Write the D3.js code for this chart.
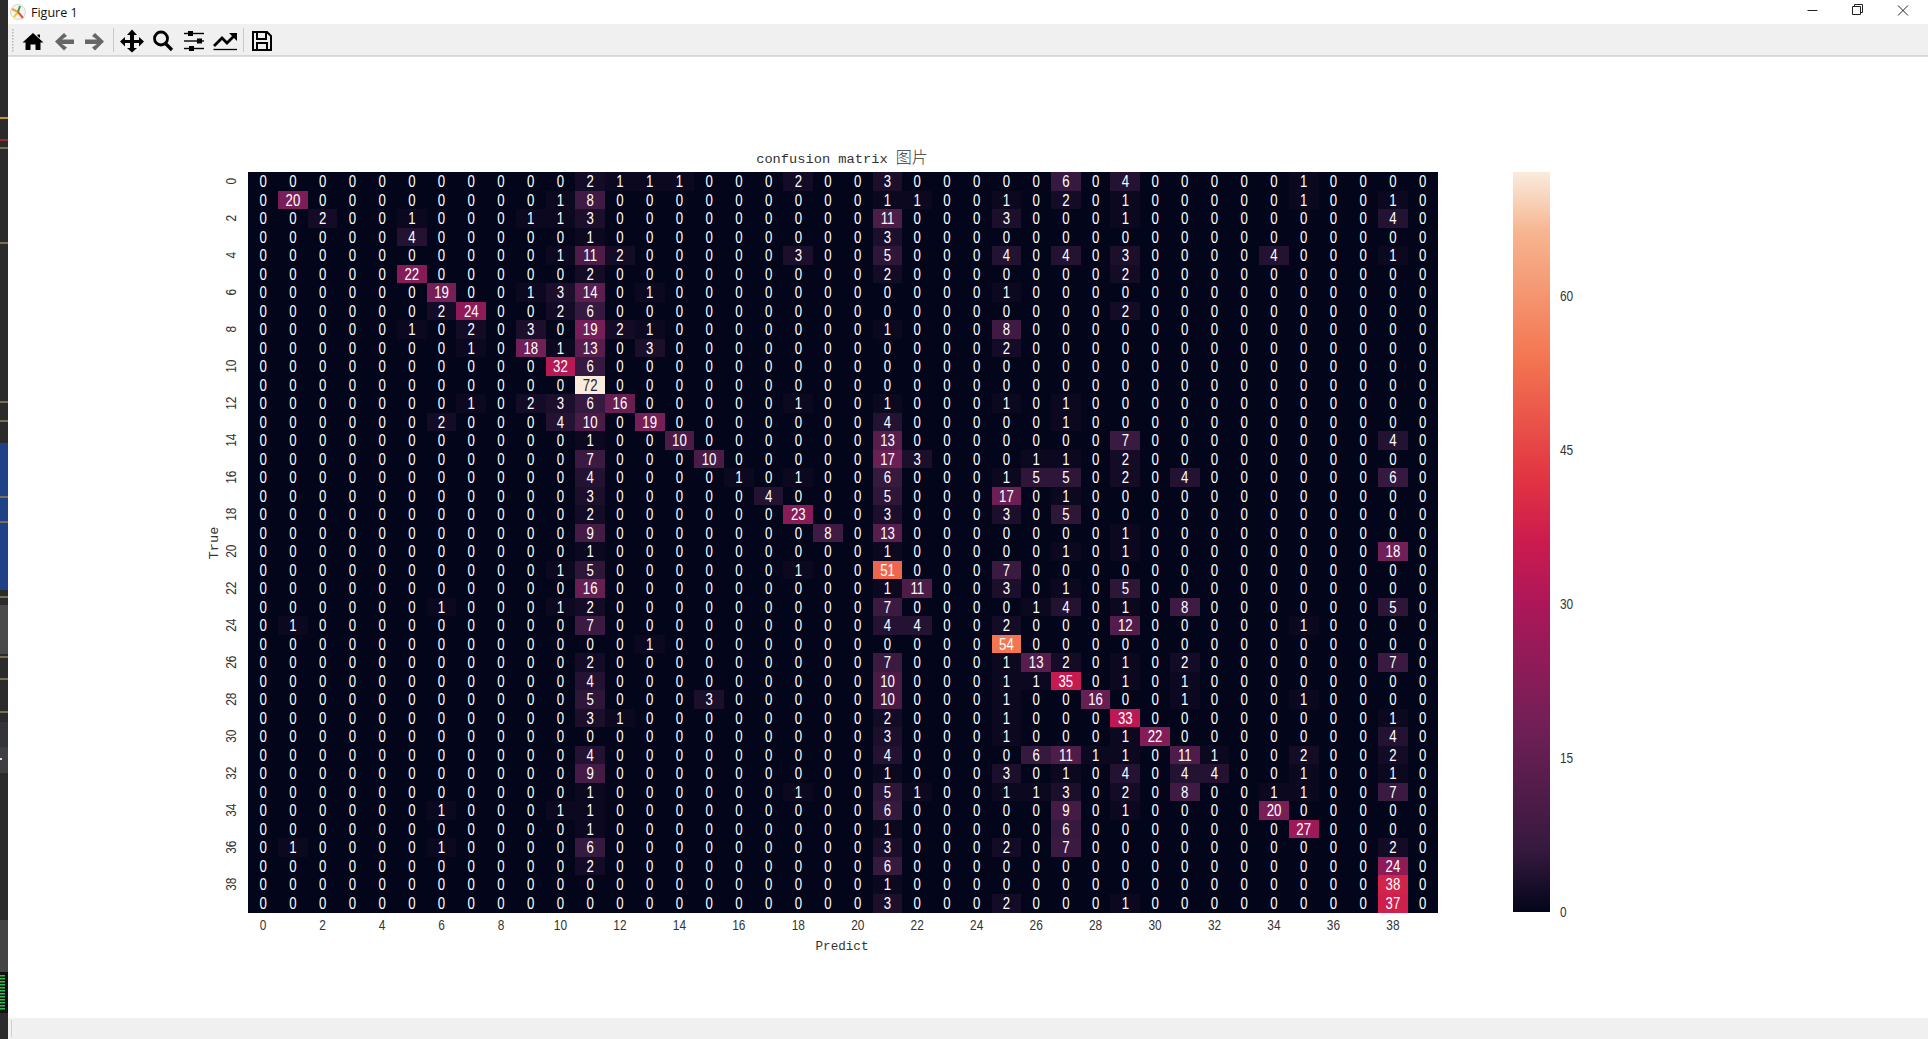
<!DOCTYPE html>
<html>
<head>
<meta charset="utf-8">
<title>Figure 1</title>
<script src="https://cdn.jsdelivr.net/npm/d3@7"></script>
<style>
  html, body { margin: 0; padding: 0; background: #fff; overflow: hidden; }
  svg { display: block; }
  text { font-family: "Liberation Sans", sans-serif; }
  .mono { font-family: "Liberation Mono", monospace; }
</style>
</head>
<body>
<div id="chart"></div>
<script>
const titleText = "confusion matrix ";
const titleCjk = "图片";
const xLabel = "Predict";
const yLabel = "True";
const xTicks = d3.range(0, 40, 2);
const yTicks = d3.range(0, 40, 2);
const barTicks = [0, 15, 30, 45, 60];
const vMax = 72;

// rocket colormap
const rocketStops = [0, 0.083, 0.25, 0.417, 0.5, 0.583, 0.75, 0.917, 1];
const rocketColors = ["#03051a", "#35193e", "#701f57", "#ad1759", "#cb1b4f", "#e13342", "#f37651", "#f6b48f", "#faebdd"];

const matrix = [
  [0,0,0,0,0,0,0,0,0,0,0,2,1,1,1,0,0,0,2,0,0,3,0,0,0,0,0,6,0,4,0,0,0,0,0,1,0,0,0,0],
  [0,20,0,0,0,0,0,0,0,0,1,8,0,0,0,0,0,0,0,0,0,1,1,0,0,1,0,2,0,1,0,0,0,0,0,1,0,0,1,0],
  [0,0,2,0,0,1,0,0,0,1,1,3,0,0,0,0,0,0,0,0,0,11,0,0,0,3,0,0,0,1,0,0,0,0,0,0,0,0,4,0],
  [0,0,0,0,0,4,0,0,0,0,0,1,0,0,0,0,0,0,0,0,0,3,0,0,0,0,0,0,0,0,0,0,0,0,0,0,0,0,0,0],
  [0,0,0,0,0,0,0,0,0,0,1,11,2,0,0,0,0,0,3,0,0,5,0,0,0,4,0,4,0,3,0,0,0,0,4,0,0,0,1,0],
  [0,0,0,0,0,22,0,0,0,0,0,2,0,0,0,0,0,0,0,0,0,2,0,0,0,0,0,0,0,2,0,0,0,0,0,0,0,0,0,0],
  [0,0,0,0,0,0,19,0,0,1,3,14,0,1,0,0,0,0,0,0,0,0,0,0,0,1,0,0,0,0,0,0,0,0,0,0,0,0,0,0],
  [0,0,0,0,0,0,2,24,0,0,2,6,0,0,0,0,0,0,0,0,0,0,0,0,0,0,0,0,0,2,0,0,0,0,0,0,0,0,0,0],
  [0,0,0,0,0,1,0,2,0,3,0,19,2,1,0,0,0,0,0,0,0,1,0,0,0,8,0,0,0,0,0,0,0,0,0,0,0,0,0,0],
  [0,0,0,0,0,0,0,1,0,18,1,13,0,3,0,0,0,0,0,0,0,0,0,0,0,2,0,0,0,0,0,0,0,0,0,0,0,0,0,0],
  [0,0,0,0,0,0,0,0,0,0,32,6,0,0,0,0,0,0,0,0,0,0,0,0,0,0,0,0,0,0,0,0,0,0,0,0,0,0,0,0],
  [0,0,0,0,0,0,0,0,0,0,0,72,0,0,0,0,0,0,0,0,0,0,0,0,0,0,0,0,0,0,0,0,0,0,0,0,0,0,0,0],
  [0,0,0,0,0,0,0,1,0,2,3,6,16,0,0,0,0,0,1,0,0,1,0,0,0,1,0,1,0,0,0,0,0,0,0,0,0,0,0,0],
  [0,0,0,0,0,0,2,0,0,0,4,10,0,19,0,0,0,0,0,0,0,4,0,0,0,0,0,1,0,0,0,0,0,0,0,0,0,0,0,0],
  [0,0,0,0,0,0,0,0,0,0,0,1,0,0,10,0,0,0,0,0,0,13,0,0,0,0,0,0,0,7,0,0,0,0,0,0,0,0,4,0],
  [0,0,0,0,0,0,0,0,0,0,0,7,0,0,0,10,0,0,0,0,0,17,3,0,0,0,1,1,0,2,0,0,0,0,0,0,0,0,0,0],
  [0,0,0,0,0,0,0,0,0,0,0,4,0,0,0,0,1,0,1,0,0,6,0,0,0,1,5,5,0,2,0,4,0,0,0,0,0,0,6,0],
  [0,0,0,0,0,0,0,0,0,0,0,3,0,0,0,0,0,4,0,0,0,5,0,0,0,17,0,1,0,0,0,0,0,0,0,0,0,0,0,0],
  [0,0,0,0,0,0,0,0,0,0,0,2,0,0,0,0,0,0,23,0,0,3,0,0,0,3,0,5,0,0,0,0,0,0,0,0,0,0,0,0],
  [0,0,0,0,0,0,0,0,0,0,0,9,0,0,0,0,0,0,0,8,0,13,0,0,0,0,0,0,0,1,0,0,0,0,0,0,0,0,0,0],
  [0,0,0,0,0,0,0,0,0,0,0,1,0,0,0,0,0,0,0,0,0,1,0,0,0,0,0,1,0,1,0,0,0,0,0,0,0,0,18,0],
  [0,0,0,0,0,0,0,0,0,0,1,5,0,0,0,0,0,0,1,0,0,51,0,0,0,7,0,0,0,0,0,0,0,0,0,0,0,0,0,0],
  [0,0,0,0,0,0,0,0,0,0,0,16,0,0,0,0,0,0,0,0,0,1,11,0,0,3,0,1,0,5,0,0,0,0,0,0,0,0,0,0],
  [0,0,0,0,0,0,1,0,0,0,1,2,0,0,0,0,0,0,0,0,0,7,0,0,0,0,1,4,0,1,0,8,0,0,0,0,0,0,5,0],
  [0,1,0,0,0,0,0,0,0,0,0,7,0,0,0,0,0,0,0,0,0,4,4,0,0,2,0,0,0,12,0,0,0,0,0,1,0,0,0,0],
  [0,0,0,0,0,0,0,0,0,0,0,0,0,1,0,0,0,0,0,0,0,0,0,0,0,54,0,0,0,0,0,0,0,0,0,0,0,0,0,0],
  [0,0,0,0,0,0,0,0,0,0,0,2,0,0,0,0,0,0,0,0,0,7,0,0,0,1,13,2,0,1,0,2,0,0,0,0,0,0,7,0],
  [0,0,0,0,0,0,0,0,0,0,0,4,0,0,0,0,0,0,0,0,0,10,0,0,0,1,1,35,0,1,0,1,0,0,0,0,0,0,0,0],
  [0,0,0,0,0,0,0,0,0,0,0,5,0,0,0,3,0,0,0,0,0,10,0,0,0,1,0,0,16,0,0,1,0,0,0,1,0,0,0,0],
  [0,0,0,0,0,0,0,0,0,0,0,3,1,0,0,0,0,0,0,0,0,2,0,0,0,1,0,0,0,33,0,0,0,0,0,0,0,0,1,0],
  [0,0,0,0,0,0,0,0,0,0,0,0,0,0,0,0,0,0,0,0,0,3,0,0,0,1,0,0,0,1,22,0,0,0,0,0,0,0,4,0],
  [0,0,0,0,0,0,0,0,0,0,0,4,0,0,0,0,0,0,0,0,0,4,0,0,0,0,6,11,1,1,0,11,1,0,0,2,0,0,2,0],
  [0,0,0,0,0,0,0,0,0,0,0,9,0,0,0,0,0,0,0,0,0,1,0,0,0,3,0,1,0,4,0,4,4,0,0,1,0,0,1,0],
  [0,0,0,0,0,0,0,0,0,0,0,1,0,0,0,0,0,0,1,0,0,5,1,0,0,1,1,3,0,2,0,8,0,0,1,1,0,0,7,0],
  [0,0,0,0,0,0,1,0,0,0,1,1,0,0,0,0,0,0,0,0,0,6,0,0,0,0,0,9,0,1,0,0,0,0,20,0,0,0,0,0],
  [0,0,0,0,0,0,0,0,0,0,0,1,0,0,0,0,0,0,0,0,0,1,0,0,0,0,0,6,0,0,0,0,0,0,0,27,0,0,0,0],
  [0,1,0,0,0,0,1,0,0,0,0,6,0,0,0,0,0,0,0,0,0,3,0,0,0,2,0,7,0,0,0,0,0,0,0,0,0,0,2,0],
  [0,0,0,0,0,0,0,0,0,0,0,2,0,0,0,0,0,0,0,0,0,6,0,0,0,0,0,0,0,0,0,0,0,0,0,0,0,0,24,0],
  [0,0,0,0,0,0,0,0,0,0,0,0,0,0,0,0,0,0,0,0,0,1,0,0,0,0,0,0,0,0,0,0,0,0,0,0,0,0,38,0],
  [0,0,0,0,0,0,0,0,0,0,0,0,0,0,0,0,0,0,0,0,0,3,0,0,0,2,0,0,0,1,0,0,0,0,0,0,0,0,37,0],
];

const width = 1928, height = 1039;
const plot = { left: 248.3, right: 1437.5, top: 172, bottom: 912 };
const bar = { left: 1513, right: 1550 };
const labelColor = "#333";

const svg = d3.select("#chart").append("svg").attr("width", width).attr("height", height);

// window chrome
svg.append("rect").attr("width", width).attr("height", height).attr("fill", "#fff");
svg.append("rect").attr("x", 8).attr("y", 24).attr("width", width - 8).attr("height", 32).attr("fill", "#f0f0f0");
svg.append("rect").attr("x", 8).attr("y", 55.5).attr("width", width - 8).attr("height", 1).attr("fill", "#bcbcbc");
svg.append("rect").attr("x", 8).attr("y", 1018).attr("width", width - 8).attr("height", 21).attr("fill", "#f0f0f0");
svg.append("rect").attr("x", 11).attr("y", 1020).attr("width", 1).attr("height", 17).attr("fill", "#d0d0d0");

// desktop strip on the left edge
const strip = svg.append("g");
strip.append("rect").attr("width", 8).attr("height", height).attr("fill", "#2b2b2b");
strip.selectAll(".blk")
  .data([[443, 147, "#1f4287"], [605, 49, "#4a4a4a"], [722, 25, "#333538"], [747, 26, "#3d3f42"], [920, 52, "#444"], [972, 41, "#111"]])
  .enter().append("rect")
  .attr("y", (d) => d[0]).attr("width", 8).attr("height", (d) => d[1]).attr("fill", (d) => d[2]);
strip.selectAll(".ln")
  .data([[117, "#c8962a"], [139, "#a0262a"], [147, "#7a6f55"], [242, "#7a6f55"], [401, "#7a6f55"], [420, "#7a6f55"], [496, "#7a6f55"], [521, "#7a6f55"], [596, "#7a6f55"], [656, "#7a6f55"], [678, "#7a6f55"], [711, "#7a6f55"]])
  .enter().append("rect")
  .attr("y", (d) => d[0]).attr("width", 8).attr("height", 2).attr("fill", (d) => d[1]);
strip.append("rect").attr("y", 758).attr("width", 2).attr("height", 2).attr("fill", "#ddd");
strip.selectAll(".grn")
  .data(d3.range(975, 1010, 3))
  .enter().append("rect")
  .attr("y", (d) => d).attr("width", 5).attr("height", 1.5).attr("fill", "#2fbf4f");

// title bar
const logo = svg.append("g").attr("transform", "translate(18,12)");
logo.append("circle").attr("r", 7.5).attr("fill", "#f4f4f4").attr("stroke", "#ccc").attr("stroke-width", 0.8);
[[-6, -3, 0, 0, "#f2a12e"], [-4, 5, 0, 0, "#f2c12e"], [0, 0, 5, 6, "#e2562b"], [0, 0, 2, -6, "#3fa04a"]].forEach((d) => {
  logo.append("line").attr("x1", d[0]).attr("y1", d[1]).attr("x2", d[2]).attr("y2", d[3])
    .attr("stroke", d[4]).attr("stroke-width", 2);
});
svg.append("text").attr("x", 31).attr("y", 16.5).text("Figure 1")
  .style("font-family", "'Open Sans', sans-serif").style("font-size", "12.5px").attr("fill", "#111");

const winBtn = svg.append("g").attr("fill", "none").attr("stroke", "#222").attr("stroke-width", 1);
winBtn.append("path").attr("d", "M1807.5 10.5H1817.5");
winBtn.append("path").attr("d", "M1852.5 6.5h8v8h-8zM1854.5 6.5v-2h8v8h-2");
winBtn.append("path").attr("d", "M1898 5.5L1908 15.5M1908 5.5L1898 15.5");

// toolbar icons
const tools = svg.append("g");
tools.selectAll(".dot").data(d3.range(29, 52, 3)).enter().append("rect")
  .attr("x", 12).attr("y", (d) => d).attr("width", 1.5).attr("height", 1.5).attr("fill", "#b5b5b5");
[113, 243].forEach((x) => {
  tools.append("rect").attr("x", x).attr("y", 28).attr("width", 1).attr("height", 24).attr("fill", "#c8c8c8");
});
tools.append("path").attr("fill", "#000")
  .attr("d", "M33 33L43.5 42.5H40.5V50H35.5V44.5H30.5V50H25.5V42.5H22.5Z M37.5 34.5H40V38L37.5 36Z");
tools.append("path").attr("fill", "#666")
  .attr("d", "M55 41.5L64 33L67 36L62 39.5H74V44H62L67 47.5L64 50.5Z");
tools.append("path").attr("fill", "#666")
  .attr("d", "M104 41.5L95 33L92 36L97 39.5H85V44H97L92 47.5L95 50.5Z");
tools.append("path").attr("fill", "#000")
  .attr("d", "M132 29.5L137 35H134V40H139V37L144 41.5L139 46.5V43H134V48H137L132 52.5L127 48H130V43H125V46.5L120 41.5L125 37V40H130V35H127Z");
tools.append("circle").attr("cx", 161).attr("cy", 38.5).attr("r", 6.5)
  .attr("fill", "none").attr("stroke", "#000").attr("stroke-width", 2.8);
tools.append("line").attr("x1", 165.5).attr("y1", 43.5).attr("x2", 172).attr("y2", 50)
  .attr("stroke", "#000").attr("stroke-width", 3.2);
[[33.5, 188], [41, 197], [48.5, 189]].forEach((d) => {
  tools.append("line").attr("x1", 184).attr("x2", 204).attr("y1", d[0]).attr("y2", d[0]).attr("stroke", "#000").attr("stroke-width", 1.4);
  tools.append("rect").attr("x", d[1]).attr("y", d[0] - 2.5).attr("width", 5).attr("height", 5).attr("fill", "#000");
});
tools.append("path").attr("fill", "none").attr("stroke", "#000").attr("stroke-width", 1.3).attr("d", "M213.5 49.5H237");
tools.append("path").attr("fill", "none").attr("stroke", "#000").attr("stroke-width", 2.8)
  .attr("d", "M214 46L222 38L227 43L235 35");
tools.append("path").attr("fill", "#000").attr("d", "M229 33H237V41Z");
tools.append("path").attr("fill", "none").attr("stroke", "#000").attr("stroke-width", 2)
  .attr("d", "M253 32H267L271 36V50H253Z M257 32V39H266V32 M257 50V43H267V50");

// scales
const cols = d3.range(matrix[0].length);
const rows = d3.range(matrix.length);
const x = d3.scaleBand().domain(cols).range([plot.left, plot.right]);
const y = d3.scaleBand().domain(rows).range([plot.top, plot.bottom]);
const color = d3.scaleLinear()
  .domain(rocketStops.map((s) => s * vMax))
  .range(rocketColors)
  .interpolate(d3.interpolateRgb);
const barY = d3.scaleLinear().domain([0, vMax]).range([plot.bottom, plot.top]);

const cells = matrix.flatMap((row, r) => row.map((v, c) => ({ r: r, c: c, v: v })));

// heatmap cells
svg.append("g").attr("shape-rendering", "crispEdges").selectAll("rect")
  .data(cells)
  .enter()
  .append("rect")
  .attr("x", (d) => x(d.c))
  .attr("y", (d) => y(d.r))
  .attr("width", x.bandwidth() + 0.5)
  .attr("height", y.bandwidth() + 0.5)
  .attr("fill", (d) => color(d.v));

// annotations
svg.append("g").selectAll("text")
  .data(cells)
  .enter()
  .append("text")
  .attr("transform", (d) => `translate(${x(d.c) + x.bandwidth() / 2},${y(d.r) + y.bandwidth() / 2 + 5.8}) scale(0.8,1)`)
  .attr("text-anchor", "middle")
  .style("font-size", "16.5px")
  .attr("fill", (d) => (d.v >= 60 ? "#262626" : "#fff"))
  .text((d) => d.v);

// axes
const xAxis = svg.append("g")
  .attr("transform", `translate(0,${plot.bottom})`)
  .call(d3.axisBottom(x).tickValues(xTicks).tickSize(0).tickPadding(8));
xAxis.select(".domain").remove();
xAxis.selectAll("text")
  .attr("transform", "scale(0.85,1)")
  .style("font-family", "'Liberation Sans', sans-serif")
  .style("font-size", "14px")
  .attr("fill", labelColor);

const yAxis = svg.append("g")
  .attr("transform", `translate(${plot.left},0)`)
  .call(d3.axisLeft(y).tickValues(yTicks).tickSize(0).tickPadding(0));
yAxis.select(".domain").remove();
yAxis.selectAll("text")
  .attr("x", 0).attr("y", 0).attr("dy", 0)
  .attr("transform", "translate(-12,0) rotate(-90) scale(0.85,1)")
  .attr("text-anchor", "middle")
  .style("font-family", "'Liberation Sans', sans-serif")
  .style("font-size", "14px")
  .attr("fill", labelColor);

// titles
const title = svg.append("text").attr("class", "mono")
  .attr("x", 842).attr("y", 163).attr("text-anchor", "middle")
  .style("font-size", "13.7px").attr("fill", labelColor);
title.append("tspan").style("white-space", "pre").text(titleText);
title.append("tspan").style("font-family", "'Noto Sans CJK SC'").style("font-weight", 300).style("font-size", "16px").text(titleCjk);

svg.append("text").attr("class", "mono").attr("transform", "translate(842,949.5) scale(0.92,1)").attr("text-anchor", "middle")
  .style("font-size", "13.7px").attr("fill", labelColor).text(xLabel);
svg.append("text").attr("class", "mono").attr("transform", "translate(217.5,543) rotate(-90)").attr("text-anchor", "middle")
  .style("font-size", "13.7px").attr("fill", labelColor).text(yLabel);

// colorbar
const grad = svg.append("defs").append("linearGradient")
  .attr("id", "rocket").attr("x1", 0).attr("x2", 0).attr("y1", 1).attr("y2", 0);
grad.selectAll("stop").data(rocketStops).enter().append("stop")
  .attr("offset", (d) => d)
  .attr("stop-color", (d, i) => rocketColors[i]);
svg.append("rect")
  .attr("x", bar.left).attr("y", plot.top)
  .attr("width", bar.right - bar.left).attr("height", plot.bottom - plot.top)
  .attr("fill", "url(#rocket)");

const barAxis = svg.append("g")
  .attr("transform", `translate(${bar.right},0)`)
  .call(d3.axisRight(barY).tickValues(barTicks).tickSize(0).tickPadding(0));
barAxis.select(".domain").remove();
barAxis.selectAll("text")
  .attr("x", 0).attr("y", 0).attr("dy", "0.35em")
  .attr("transform", "translate(10,0) scale(0.85,1)")
  .style("font-family", "'Liberation Sans', sans-serif")
  .style("font-size", "14px")
  .attr("fill", labelColor);
</script>
</body>
</html>
